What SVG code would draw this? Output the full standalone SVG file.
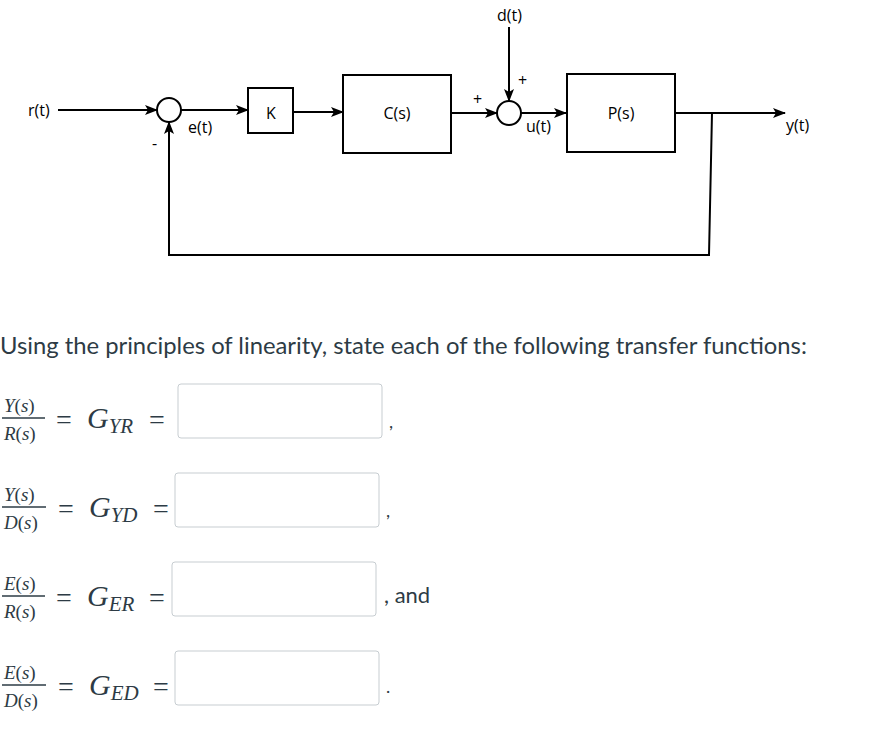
<svg xmlns="http://www.w3.org/2000/svg" width="872" height="730" viewBox="0 0 872 730">
<style>
.ln{stroke:#000;stroke-width:2;fill:none}
.bx{stroke:#000;stroke-width:2;fill:#fff}
.lb{font-family:"Open Sans","DejaVu Sans",sans-serif;font-size:16px;fill:#000}
.tx{font-family:Lato,"Liberation Sans",sans-serif;fill:#2d3b45}
.m{font-family:"Liberation Serif",serif;font-style:italic;fill:#2d3b45}
.mn{font-family:"Liberation Serif",serif;font-style:normal;fill:#2d3b45}
.f{font-size:19px}
.g{font-size:30px}
.sb{font-size:21px}
.eq{font-size:28px}
.in{fill:#fff;stroke:#c7cdd1;stroke-width:1}
.fr{stroke:#2d3b45;stroke-width:1.3}
</style>
<defs>
<marker id="a" markerWidth="13" markerHeight="10" refX="12" refY="5" orient="auto" markerUnits="userSpaceOnUse">
<path d="M0,0 L13,5 L0,10 L3,5 Z" fill="#000"/>
</marker>
</defs>
<rect width="872" height="730" fill="#fff"/>
<g id="connectors">
<path class="ln" d="M58,110 H157" marker-end="url(#a)"/>
<path class="ln" d="M181,110 H248" marker-end="url(#a)"/>
<path class="ln" d="M294,112 H343" marker-end="url(#a)"/>
<path class="ln" d="M452,113 H497" marker-end="url(#a)"/>
<path class="ln" d="M509,27 V101" marker-end="url(#a)"/>
<path class="ln" d="M521,113 H566" marker-end="url(#a)"/>
<path class="ln" d="M675,113 H785" marker-end="url(#a)"/>
<path class="ln" d="M712,113 L709,255 H169 V122" marker-end="url(#a)"/>
</g>
<g id="sum1"><circle class="bx" cx="169" cy="110" r="12"/><text class="lb" x="152" y="149">-</text></g>
<g id="K"><rect class="bx" x="248" y="88" width="45" height="45"/><text class="lb" x="271" y="119" text-anchor="middle">K</text></g>
<g id="C"><rect class="bx" x="343" y="75" width="108" height="78"/><text class="lb" x="397" y="119" text-anchor="middle">C(s)</text></g>
<g id="sum2"><circle class="bx" cx="509" cy="113" r="12"/><text class="lb" x="473" y="105">+</text><text class="lb" x="518" y="86">+</text></g>
<g id="P"><rect class="bx" x="567" y="74" width="108" height="78"/><text class="lb" x="621" y="119" text-anchor="middle">P(s)</text></g>
<g id="labels">
<text class="lb" x="28" y="116">r(t)</text>
<text class="lb" x="188" y="133">e(t)</text>
<text class="lb" x="497" y="21">d(t)</text>
<text class="lb" x="526" y="132">u(t)</text>
<text class="lb" x="786" y="131">y(t)</text>
</g>
<text class="tx" x="0" y="354" font-size="23.8">Using the principles of linearity, state each of the following transfer functions:</text>
<g id="eq1">
<text class="m f" x="4" y="412">Y<tspan class="mn">(</tspan>s<tspan class="mn">)</tspan></text>
<line class="fr" x1="2" y1="418" x2="45" y2="418"/>
<text class="m f" x="4" y="440">R<tspan class="mn">(</tspan>s<tspan class="mn">)</tspan></text>
<text class="mn eq" x="56" y="429">=</text>
<text class="m g" x="87" y="428">G<tspan class="sb" dy="5">YR</tspan></text>
<text class="mn eq" x="149" y="429">=</text>
<rect class="in" x="178" y="384" width="204" height="54" rx="3"/>
<text class="tx" x="389" y="428" font-size="18">,</text>
</g>
<g id="eq2">
<text class="m f" x="4" y="501">Y<tspan class="mn">(</tspan>s<tspan class="mn">)</tspan></text>
<line class="fr" x1="2" y1="507" x2="46" y2="507"/>
<text class="m f" x="4" y="529">D<tspan class="mn">(</tspan>s<tspan class="mn">)</tspan></text>
<text class="mn eq" x="58" y="518">=</text>
<text class="m g" x="89" y="517">G<tspan class="sb" dy="5">YD</tspan></text>
<text class="mn eq" x="153" y="518">=</text>
<rect class="in" x="175" y="473" width="204" height="54" rx="3"/>
<text class="tx" x="386" y="517" font-size="18">,</text>
</g>
<g id="eq3">
<text class="m f" x="4" y="590">E<tspan class="mn">(</tspan>s<tspan class="mn">)</tspan></text>
<line class="fr" x1="2" y1="596" x2="45" y2="596"/>
<text class="m f" x="4" y="618">R<tspan class="mn">(</tspan>s<tspan class="mn">)</tspan></text>
<text class="mn eq" x="56" y="607">=</text>
<text class="m g" x="87" y="606">G<tspan class="sb" dy="5">ER</tspan></text>
<text class="mn eq" x="149" y="607">=</text>
<rect class="in" x="172" y="562" width="204" height="54" rx="3"/>
<text class="tx" x="384" y="603" font-size="22">, and</text>
</g>
<g id="eq4">
<text class="m f" x="4" y="679">E<tspan class="mn">(</tspan>s<tspan class="mn">)</tspan></text>
<line class="fr" x1="2" y1="685" x2="46" y2="685"/>
<text class="m f" x="4" y="707">D<tspan class="mn">(</tspan>s<tspan class="mn">)</tspan></text>
<text class="mn eq" x="58" y="696">=</text>
<text class="m g" x="89" y="695">G<tspan class="sb" dy="5">ED</tspan></text>
<text class="mn eq" x="153" y="696">=</text>
<rect class="in" x="175" y="651" width="204" height="54" rx="3"/>
<text class="tx" x="386" y="693" font-size="18">.</text>
</g>
</svg>
